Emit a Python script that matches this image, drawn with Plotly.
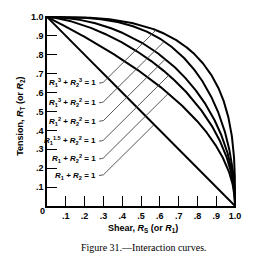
import numpy as np
import plotly.graph_objects as go

# Interaction curves: R1^a + R2^b = 1
shear_exp = [3, 3, 2, 1.5, 1, 1]
tension_exp = [3, 2, 2, 2, 2, 1]
curve_labels = [
    "<i>R</i><sub>1</sub><sup>3</sup> + <i>R</i><sub>2</sub><sup>3</sup> = 1",
    "<i>R</i><sub>1</sub><sup>3</sup> + <i>R</i><sub>2</sub><sup>2</sup> = 1",
    "<i>R</i><sub>1</sub><sup>2</sup> + <i>R</i><sub>2</sub><sup>2</sup> = 1",
    "<i>R</i><sub>1</sub><sup>1.5</sup> + <i>R</i><sub>2</sub><sup>2</sup> = 1",
    "<i>R</i><sub>1</sub> + <i>R</i><sub>2</sub><sup>2</sup> = 1",
    "<i>R</i><sub>1</sub> + <i>R</i><sub>2</sub> = 1",
]
label_y = [0.651, 0.547, 0.448, 0.344, 0.25, 0.161]
label_x = 0.272
tick_vals = [0.1, 0.2, 0.3, 0.4, 0.5, 0.6, 0.7, 0.8, 0.9, 1.0]
tick_text = [".1", ".2", ".3", ".4", ".5", ".6", ".7", ".8", ".9", "1.0"]

x = np.linspace(0, 1, 801)
fig = go.Figure()
for a, b in zip(shear_exp, tension_exp):
    y = np.clip(1 - x ** a, 0, None) ** (1.0 / b)
    fig.add_trace(go.Scatter(x=x, y=y, mode="lines",
                             line=dict(color="black", width=2), hoverinfo="skip"))

# leader lines from labels to curves
for a, b, yl in zip(shear_exp, tension_exp, label_y):
    xs = 0.30
    f = np.clip(1 - x ** a, 0, None) ** (1.0 / b)
    g = yl + (x - xs) - f
    idx = np.where((g[:-1] < 0) & (g[1:] >= 0))[0][0]
    xi = x[idx]
    yi = yl + xi - xs
    fig.add_trace(go.Scatter(x=[label_x + 0.005, xs - 0.012, xs, xi],
                             y=[yl, yl, yl + 0.004, yi], mode="lines",
                             line=dict(color="#444", width=0.9), hoverinfo="skip"))

lab_font = dict(family="Liberation Sans, Arial", size=8, color="black", weight="bold")
for t, yl in zip(curve_labels, label_y):
    fig.add_annotation(x=label_x, y=yl, text=t, showarrow=False, xanchor="right",
                       yanchor="middle", font=lab_font)

title_font = dict(family="Liberation Sans, Arial", size=9, color="black", weight="bold")
fig.add_annotation(xref="paper", yref="paper", x=0.508, y=-0.119,
                   text="Shear, <i>R</i><sub>S</sub> (or <i>R</i><sub>1</sub>)",
                   showarrow=False, font=title_font, xanchor="center", yanchor="middle")
fig.add_annotation(xref="paper", yref="paper", x=-0.141, y=0.4715,
                   text="Tension, <i>R</i><sub>T</sub> (or <i>R</i><sub>2</sub>)",
                   showarrow=False, font=title_font, textangle=-90, xanchor="center", yanchor="middle")
fig.add_annotation(xref="paper", yref="paper", x=0.513, y=-0.218,
                   text="Figure 31.\u2014Interaction curves.",
                   showarrow=False, font=dict(family="Liberation Serif, Times New Roman", size=10, color="black"),
                   xanchor="center", yanchor="middle")
fig.add_annotation(x=0, y=0, text="0", showarrow=False, xanchor="center", yanchor="middle",
                   xshift=-5, yshift=-5, font=dict(family="Liberation Sans, Arial", size=9, color="black", weight="bold"))

tick_font = dict(family="Liberation Sans, Arial", size=9, color="black", weight="bold")
fig.update_xaxes(range=[0, 1.005], showgrid=False, zeroline=False, showline=True, linecolor="black",
                 linewidth=1.5, ticks="inside", ticklen=10, tickwidth=1.2, tickcolor="black",
                 tickvals=tick_vals, ticktext=tick_text, tickfont=tick_font)
fig.update_yaxes(range=[0, 1.005], showgrid=False, zeroline=False, showline=True, linecolor="black",
                 linewidth=1.5, ticks="inside", ticklen=10, tickwidth=1.2, tickcolor="black",
                 tickvals=tick_vals, ticktext=tick_text, tickfont=tick_font)
fig.update_layout(width=253, height=257, margin=dict(l=47, r=15, t=13, b=51),
                  showlegend=False, plot_bgcolor="white", paper_bgcolor="white")
fig.write_html("out.html")
